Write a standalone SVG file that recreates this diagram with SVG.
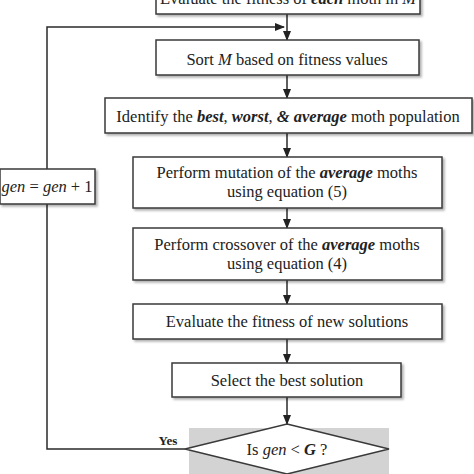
<svg xmlns="http://www.w3.org/2000/svg" width="474" height="474" viewBox="0 0 474 474">
<defs>
<marker id="ah" markerWidth="10" markerHeight="8" refX="9" refY="4" orient="auto" markerUnits="userSpaceOnUse">
<path d="M0,0 L10,4 L0,8 Z" fill="#222"/>
</marker>
<filter id="sh" x="-10%" y="-20%" width="130%" height="160%">
<feDropShadow dx="2" dy="2" stdDeviation="1.2" flood-color="#000" flood-opacity="0.3"/>
</filter>
</defs>
<style>
.box{fill:#fff;stroke:#3a3a3a;stroke-width:1.5;filter:url(#sh)}
.t{font-family:"Liberation Serif","Times New Roman",serif;font-size:16.5px;fill:#222;text-anchor:middle}
.i{font-style:italic}
.bi{font-style:italic;font-weight:bold}
.c{stroke:#2a2a2a;stroke-width:1.5;fill:none}
</style>
<rect width="474" height="474" fill="#fff"/>

<g id="connectors">
<line class="c" x1="287" y1="14" x2="287" y2="40" marker-end="url(#ah)"/>
<line class="c" x1="287" y1="75" x2="287" y2="98" marker-end="url(#ah)"/>
<line class="c" x1="287" y1="133" x2="287" y2="157" marker-end="url(#ah)"/>
<line class="c" x1="287" y1="208" x2="287" y2="228" marker-end="url(#ah)"/>
<line class="c" x1="287" y1="280" x2="287" y2="304" marker-end="url(#ah)"/>
<line class="c" x1="287" y1="339" x2="287" y2="363" marker-end="url(#ah)"/>
<line class="c" x1="287" y1="397" x2="287" y2="424" marker-end="url(#ah)"/>
<polyline class="c" points="185,449 47,449 47,27 284,27" marker-end="url(#ah)"/>
</g>

<g id="n0">
<rect class="box" x="156" y="-20" width="264" height="34"/>
<text class="t" x="288" y="3.5">Evaluate the fitness of <tspan class="bi">each</tspan> moth in <tspan class="i">M</tspan></text>
</g>

<g id="n1">
<rect class="box" x="156" y="40" width="263" height="35"/>
<text class="t" x="287" y="65">Sort <tspan class="i">M</tspan>  based on fitness values</text>
</g>

<g id="n2">
<rect class="box" x="105" y="98" width="367" height="35"/>
<text class="t" x="288" y="121.5">Identify the <tspan class="bi">best</tspan>, <tspan class="bi">worst</tspan>, <tspan class="bi">&amp; average</tspan> moth population</text>
</g>

<g id="n3">
<rect class="box" x="133" y="157" width="309" height="51"/>
<text class="t" x="287" y="178">Perform mutation of the <tspan class="bi">average</tspan> moths</text>
<text class="t" x="287" y="197">using equation (5)</text>
</g>

<g id="n4">
<rect class="box" x="133" y="228" width="309" height="52"/>
<text class="t" x="287" y="250">Perform crossover of the <tspan class="bi">average</tspan> moths</text>
<text class="t" x="287" y="269">using equation (4)</text>
</g>

<g id="n5">
<rect class="box" x="133" y="304" width="309" height="35"/>
<text class="t" x="287" y="327">Evaluate the fitness of new solutions</text>
</g>

<g id="n6">
<rect class="box" x="172" y="363" width="229" height="34"/>
<text class="t" x="287" y="386">Select the best solution</text>
</g>

<g id="n7">
<rect x="189" y="428" width="200" height="46" fill="#d3d3d3"/>
<polygon points="287,424 389,449 287,474 185,449" fill="#fff" stroke="#3a3a3a" stroke-width="1.5"/>
<text class="t" x="287" y="455">Is <tspan class="i">gen</tspan> &lt; <tspan class="bi">G</tspan> ?</text>
<text class="t" x="168" y="445" style="font-size:13px;font-weight:bold">Yes</text>
</g>

<g id="n8">
<rect class="box" x="0" y="169" width="95" height="35"/>
<text class="t" x="47" y="192"><tspan class="i">gen</tspan> = <tspan class="i">gen</tspan> + 1</text>
</g>
</svg>
